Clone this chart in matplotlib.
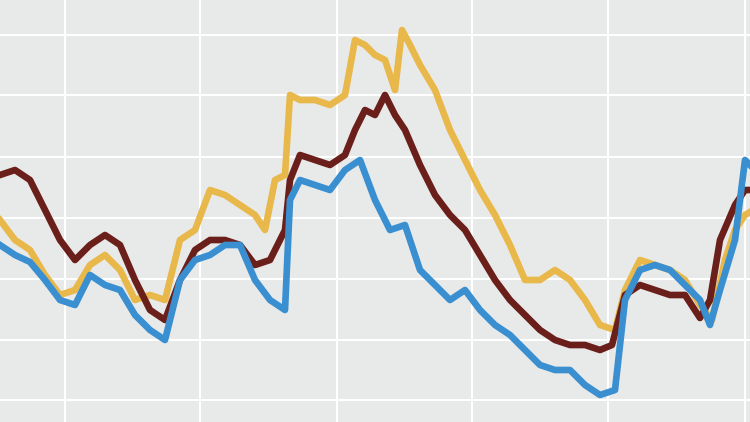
import matplotlib
matplotlib.use("Agg")
import matplotlib.pyplot as plt

bx = [0,15,30,45,60,75,90,105,120,135,150,165,180,195,210,225,240,255,270,285,290,300,315,330,345,360,375,390,405,420,435,450,465,480,495,510,525,540,555,570,585,600,615,625,640,655,670,685,700,710,720,735,745,750]
by = [245,255,262,280,300,305,275,285,290,315,330,340,280,260,255,245,245,280,300,310,200,180,185,190,170,160,200,230,225,270,285,300,290,310,325,335,350,365,370,370,385,395,390,300,270,265,270,285,300,325,290,240,160,165]
yx = [0,15,30,45,60,75,90,105,120,135,150,165,180,195,210,225,240,255,265,275,285,290,300,315,330,345,355,365,375,385,395,402,410,420,435,450,465,480,495,510,525,540,555,570,585,600,615,625,640,655,670,685,700,712,725,735,745,750]
yy = [220,240,250,275,295,290,265,255,270,300,295,300,240,230,190,195,205,215,230,180,175,95,100,100,105,95,40,45,55,60,90,30,45,65,90,130,160,190,215,245,280,280,270,280,300,325,330,290,260,265,270,280,305,320,260,230,215,212]
rx = [0,15,30,45,60,75,90,105,120,135,150,165,180,195,210,225,240,255,270,285,290,300,315,330,345,355,365,375,385,395,405,420,435,450,465,480,495,510,525,540,555,570,585,600,612,625,640,655,670,685,700,710,720,735,745,750]
ry = [175,170,180,210,240,260,245,235,245,280,310,320,280,250,240,240,245,265,260,230,180,155,160,165,155,130,110,115,95,115,130,165,195,215,230,255,280,300,315,330,340,345,345,350,345,295,285,290,295,295,318,300,240,205,190,190]

fig = plt.figure(figsize=(7.5,4.22), dpi=100)
ax = fig.add_axes([0,0,1,1])
ax.set_facecolor('#e8eaea')
fig.patch.set_facecolor('#e8eaea')
ax.plot(yx, yy, color='#e8b84b', lw=4.8, solid_joinstyle='round')
ax.plot(rx, ry, color='#6b1f1a', lw=4.8, solid_joinstyle='round')
ax.plot(bx, by, color='#3a8fd0', lw=4.8, solid_joinstyle='round')
ax.set_xlim(0,750); ax.set_ylim(422,0)
ax.set_xticks([65,200,337,472,608,745]); ax.set_yticks([35,95,157,218,279,340,400])
ax.grid(color='white', lw=1.5); ax.set_axisbelow(True)
ax.tick_params(length=0, labelbottom=False, labelleft=False)
for s in ax.spines.values(): s.set_visible(False)
fig.savefig('out.png', dpi=100)
